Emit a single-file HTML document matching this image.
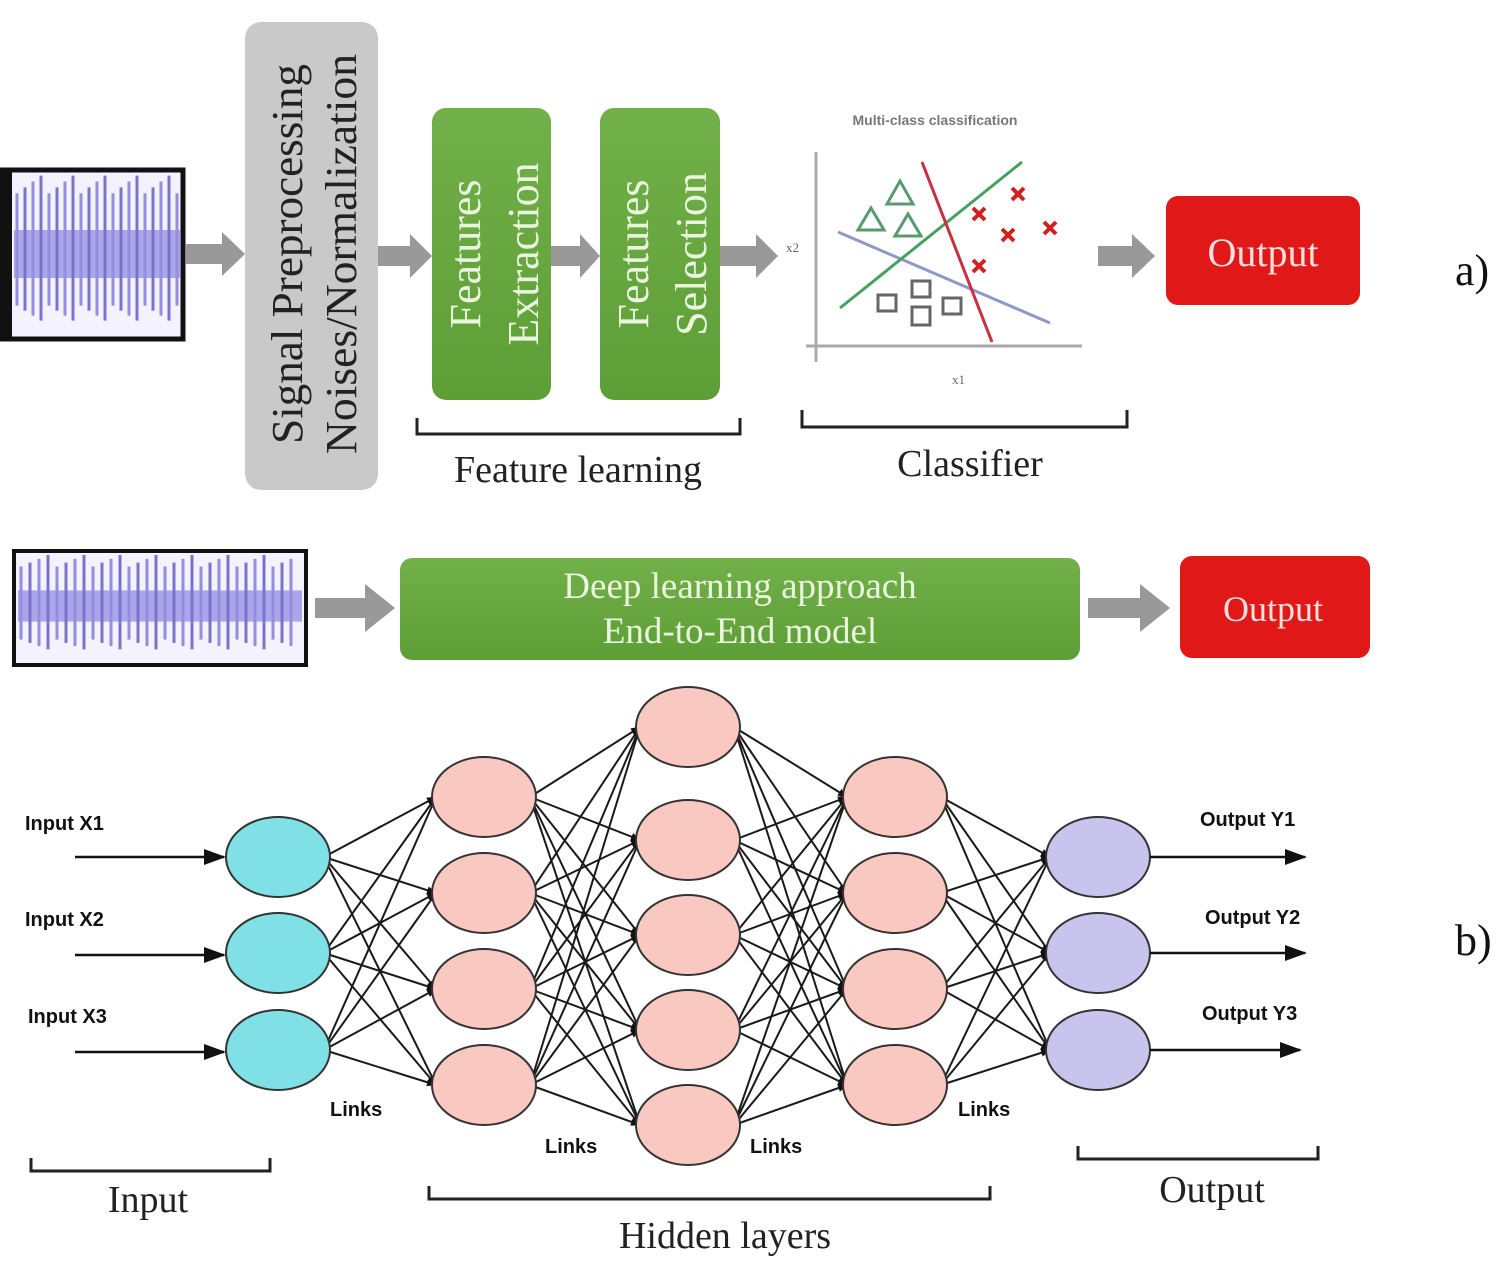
<!DOCTYPE html>
<html><head><meta charset="utf-8"><style>
html,body{margin:0;padding:0;background:#fff;}
svg{display:block;}
.serif{font-family:"Liberation Serif",serif;}
.sans{font-family:"Liberation Sans",sans-serif;font-weight:bold;}
</style></head><body>
<svg id="s" width="1499" height="1264" viewBox="0 0 1499 1264" xmlns="http://www.w3.org/2000/svg">
<defs>
<marker id="ah" markerWidth="10" markerHeight="10" refX="9" refY="5" orient="auto" markerUnits="userSpaceOnUse"><path d="M0,1 L10,5 L0,9 Z" fill="#111"/></marker>
<marker id="ah2" markerWidth="22" markerHeight="16" refX="20" refY="8" orient="auto" markerUnits="userSpaceOnUse"><path d="M0,0 L22,8 L0,16 Z" fill="#111"/></marker>
<linearGradient id="gg" x1="0" y1="0" x2="0" y2="1"><stop offset="0" stop-color="#72b04a"/><stop offset="1" stop-color="#5e9e36"/></linearGradient>
</defs>
<rect x="2" y="170" width="181" height="169" fill="#f4f2ff" stroke="#111" stroke-width="5"/>
<g id="w1"></g>
<rect x="0" y="168" width="12" height="173" fill="#111"/>
<g fill="#999">
<path d="M186,244 H222 V232 L245,254 L222,276 V264 H186Z"/>
<path d="M378,246 H410 V234 L432,256 L410,278 V266 H378Z"/>
<path d="M551,246 H580 V234 L600,256 L580,278 V266 H551Z"/>
<path d="M720,246 H756 V234 L778,256 L756,278 V266 H720Z"/>
<path d="M1098,246 H1132 V234 L1155,256 L1132,278 V266 H1098Z"/>
<path d="M315,598 H365 V584 L395,608 L365,632 V618 H315Z"/>
<path d="M1088,598 H1140 V584 L1170,608 L1140,632 V618 H1088Z"/>
</g>
<rect x="245" y="22" width="133" height="468" rx="16" fill="#c9c9c9"/>
<g class="serif" font-size="44" fill="#222" text-anchor="middle">
<text transform="translate(302,254) rotate(-90)" textLength="380" lengthAdjust="spacingAndGlyphs">Signal Preprocessing</text>
<text transform="translate(356,254) rotate(-90)" textLength="400" lengthAdjust="spacingAndGlyphs">Noises/Normalization</text>
</g>
<rect x="432" y="108" width="119" height="292" rx="14" fill="url(#gg)"/>
<rect x="600" y="108" width="120" height="292" rx="14" fill="url(#gg)"/>
<g class="serif" font-size="44" fill="#eaf5e0" text-anchor="middle">
<text transform="translate(480,254) rotate(-90)">Features</text>
<text transform="translate(538,254) rotate(-90)">Extraction</text>
<text transform="translate(648,254) rotate(-90)">Features</text>
<text transform="translate(706,254) rotate(-90)">Selection</text>
</g>
<g fill="none" stroke="#222" stroke-width="3">
<path d="M417,418 V434 H740 V418"/>
<path d="M802,410 V427 H1127 V410"/>
<path d="M31,1158 V1171 H270 V1158"/>
<path d="M429,1186 V1199 H990 V1186"/>
<path d="M1078,1146 V1159 H1318 V1146"/>
</g>
<g class="serif" font-size="38" fill="#222" text-anchor="middle">
<text x="578" y="482">Feature learning</text>
<text x="970" y="476">Classifier</text>
<text x="148" y="1212">Input</text>
<text x="725" y="1248">Hidden layers</text>
<text x="1212" y="1202">Output</text>
</g>
<g class="serif" font-size="44" fill="#111">
<text x="1455" y="285">a)</text>
<text x="1455" y="955">b)</text>
</g>
<text x="935" y="125" text-anchor="middle" class="sans" font-size="14" fill="#777">Multi-class classification</text>
<g stroke="#aaa" stroke-width="3" fill="none">
<path d="M816,152 V362"/><path d="M806,346 H1082"/>
</g>
<text x="786" y="252" font-size="13" fill="#666" class="serif">x2</text>
<text x="952" y="384" font-size="13" fill="#666" class="serif">x1</text>
<line x1="838" y1="232" x2="1050" y2="323" stroke="#9098c8" stroke-width="3"/>
<line x1="840" y1="308" x2="1022" y2="162" stroke="#48a060" stroke-width="3"/>
<line x1="922" y1="162" x2="992" y2="342" stroke="#c83040" stroke-width="3"/>
<g fill="none" stroke="#5a9a70" stroke-width="3">
<path d="M887,204 L900,181 L913,204Z"/><path d="M858,230 L871,208 L884,230Z"/><path d="M895,236 L908,214 L921,236Z"/>
</g>
<g fill="none" stroke="#666" stroke-width="3">
<rect x="878" y="295" width="18" height="16"/><rect x="912" y="281" width="18" height="16"/><rect x="912" y="307" width="18" height="18"/><rect x="943" y="298" width="18" height="16"/>
</g>
<g stroke="#d02020" stroke-width="4">
<path d="M973,208 l12,12 m0,-12 l-12,12"/><path d="M1012,188 l12,12 m0,-12 l-12,12"/><path d="M1002,229 l12,12 m0,-12 l-12,12"/><path d="M1044,222 l12,12 m0,-12 l-12,12"/><path d="M973,260 l12,12 m0,-12 l-12,12"/>
</g>
<rect x="1166" y="196" width="194" height="109" rx="12" fill="#e01818"/>
<text x="1263" y="266" text-anchor="middle" class="serif" font-size="40" fill="#fbe0e0">Output</text>
<rect x="14" y="551" width="292" height="114" fill="#f4f2ff" stroke="#111" stroke-width="4"/>
<g id="w2"></g>
<rect x="400" y="558" width="680" height="102" rx="12" fill="url(#gg)"/>
<g class="serif" font-size="37" fill="#eaf5e0" text-anchor="middle">
<text x="740" y="598">Deep learning approach</text>
<text x="740" y="643">End-to-End model</text>
</g>
<rect x="1180" y="556" width="190" height="102" rx="12" fill="#e01818"/>
<text x="1273" y="621" text-anchor="middle" class="serif" font-size="36" fill="#fbe0e0">Output</text>
<g id="edges" stroke="#1a1a1a" stroke-width="2"></g>
<g id="nodes" stroke="#333" stroke-width="2"></g>
<g class="sans" font-size="20" fill="#111">
<text x="25" y="830">Input X1</text><text x="25" y="926">Input X2</text><text x="28" y="1023">Input X3</text>
<text x="1200" y="826">Output Y1</text><text x="1205" y="924">Output Y2</text><text x="1202" y="1020">Output Y3</text>
<text x="330" y="1116">Links</text><text x="545" y="1153">Links</text><text x="750" y="1153">Links</text><text x="958" y="1116">Links</text>
</g>
<g stroke="#111" stroke-width="2.5">
<line x1="75" y1="857" x2="224" y2="857" marker-end="url(#ah2)"/>
<line x1="75" y1="955" x2="224" y2="955" marker-end="url(#ah2)"/>
<line x1="75" y1="1052" x2="224" y2="1052" marker-end="url(#ah2)"/>
<line x1="1150" y1="857" x2="1305" y2="857" marker-end="url(#ah2)"/>
<line x1="1150" y1="953" x2="1305" y2="953" marker-end="url(#ah2)"/>
<line x1="1150" y1="1050" x2="1300" y2="1050" marker-end="url(#ah2)"/>
</g>
</svg>
<script>
var NS="http://www.w3.org/2000/svg";
function el(p,t,a){var e=document.createElementNS(NS,t);for(var k in a)e.setAttribute(k,a[k]);p.appendChild(e);return e;}
function wave(g,x0,x1,yc,h,step){
  el(g,"rect",{x:x0,y:yc-h*0.3,width:x1-x0,height:h*0.6,fill:"#aaa6ee"});
  var i=0;for(var x=x0+3;x<x1-2;x+=step){i++;var a=h*(0.98-0.22*((i*7)%4)/3);
   el(g,"line",{x1:x,y1:yc-a,x2:x,y2:yc+a*0.85,stroke:i%2?"#948edc":"#7a74c8","stroke-width":3});}
}
wave(document.getElementById("w1"),14,180,254,80,8);
wave(document.getElementById("w2"),18,302,606,52,9);
var L=[[278,[857,953,1050],"#7fe0e6"],[484,[797,893,989,1085],"#f9c8c0"],[688,[727,840,935,1030,1125],"#f9c8c0"],[895,[797,893,989,1085],"#f9c8c0"],[1098,[857,953,1050],"#c8c4ee"]];
var rx=52,ry=40,E=document.getElementById("edges"),N=document.getElementById("nodes");
for(var l=0;l<4;l++){var a=L[l],b=L[l+1];a[1].forEach(function(y1){b[1].forEach(function(y2){
 var x1=a[0]+rx-6,x2=b[0]-rx+4;
 el(E,"line",{x1:x1,y1:y1,x2:x2,y2:y2,"marker-end":"url(#ah)"});});});}
L.forEach(function(a){a[1].forEach(function(y){el(N,"ellipse",{cx:a[0],cy:y,rx:rx,ry:ry,fill:a[2]});});});
</script>
</body></html>
